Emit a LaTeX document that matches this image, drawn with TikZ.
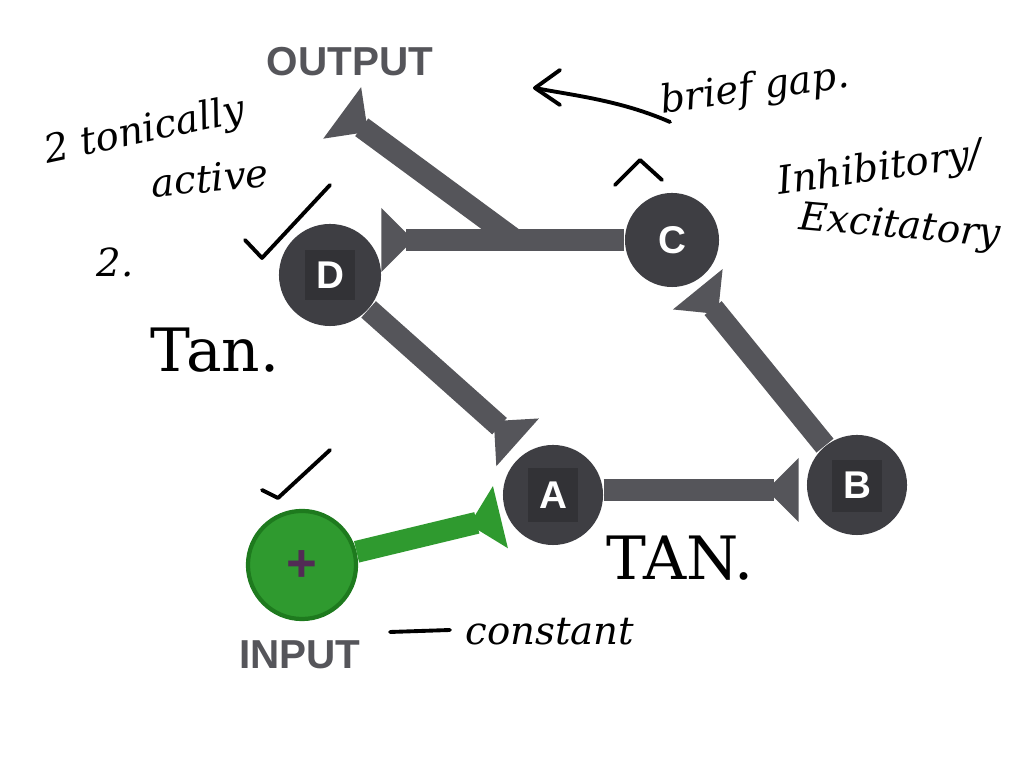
\documentclass[tikz,border=0pt]{standalone}
\usepackage{fontspec}
\setmainfont{Liberation Sans}
\newfontfamily\hand{DejaVu Serif}
\usetikzlibrary{arrows.meta}
\definecolor{ngray}{HTML}{3E3E43}
\definecolor{ltgray}{HTML}{55555A}
\definecolor{ngreen}{HTML}{2F9A2F}
\definecolor{dgreen}{HTML}{1E7A1E}
\tikzset{
  neuron/.style={circle,fill=ngray,minimum size=1.0cm,inner sep=0pt,text=white,font=\bfseries\fontsize{11}{11}\selectfont},
  letter/.style={text=white,font=\bfseries\fontsize{11}{11}\selectfont},
  syn/.style={line width=0.22cm,draw=ltgray,-{Triangle[reversed,width=0.62cm,length=0.32cm]},shorten >=-1pt},
  gsyn/.style={syn,draw=ngreen},
  lbl/.style={text=ltgray,font=\bfseries\fontsize{11.5}{12}\selectfont},
  hw/.style={font=\hand\itshape\fontsize{11}{11}\selectfont,text=black},
  big/.style={font=\hand\fontsize{17}{17}\selectfont,text=black},
  ink/.style={draw=black,line width=1.1pt,line cap=round,line join=round}
}
\begin{document}
\begin{tikzpicture}[x=0.01cm,y=-0.01cm]
\useasboundingbox[fill=white] (0,0) rectangle (1024,768);
% nodes
\node[neuron,minimum size=1.02cm] (D) at (330,275) {};
\fill[ngray!80!black] (305,250) rectangle (355,300);
\node[letter] (Dl) at (330,275) {D};
\node[neuron,minimum size=0.94cm] (C) at (672,240) {C};
\node[neuron] (A) at (553,495) {};
\fill[ngray!80!black] (528,468) rectangle (578,522);
\node[letter] (Al) at (553,495) {A};
\node[neuron] (B) at (857,485) {};
\fill[ngray!80!black] (832,460) rectangle (882,512);
\node[letter] (Bl) at (857,485) {B};
\node[circle,fill=ngreen,draw=dgreen,line width=1.2pt,minimum size=1.08cm,inner sep=0pt] (I) at (302,565) {};
\node[text=ngray!70!violet,font=\bfseries\fontsize{15}{15}\selectfont] (Ip) at (302,566) {+};
\node[lbl] (out) at (350,62) {OUTPUT};
\node[lbl] (inp) at (300,655) {INPUT};
% connectors
\coordinate (J) at (515,240);
\coordinate (Out) at (345,115);
\draw[syn] (C.west) -- (385,240);
\draw[syn] (J) -- (Out);
\draw[syn] (D) -- (515,440);
\draw[syn] (A.east |- 0,490) -- (795,490);
\draw[syn] (B) -- (700,292);
\draw[gsyn] (I) -- (497,518);
% handwriting
\node[hw,rotate=12] (h1) at (145,132) {2 tonically};
\node[hw,rotate=5] (h2) at (210,178) {active};
\node[hw] (h3) at (115,262) {2.};
\node[big] (h4) at (215,350) {Tan.};
\node[big] (h5) at (680,558) {TAN.};
\node[hw] (h6) at (550,632) {constant};
\draw[ink] (390,632) -- (450,630);
\node[hw,rotate=8] (h7) at (755,90) {brief gap.};
\draw[ink] (670,122) .. controls (620,100) and (570,95) .. (535,88);
\draw[ink] (560,70) -- (535,88) -- (560,105);
\node[hw,rotate=8] (h8) at (880,170) {Inhibitory/};
\node[hw,rotate=-5] (h9) at (900,228) {Excitatory};
\draw[ink] (615,185) -- (640,160) -- (662,180);
\draw[ink] (245,240) -- (262,258) -- (330,185);
\draw[ink] (262,490) -- (278,498) -- (330,450);
\end{tikzpicture}
\end{document}
